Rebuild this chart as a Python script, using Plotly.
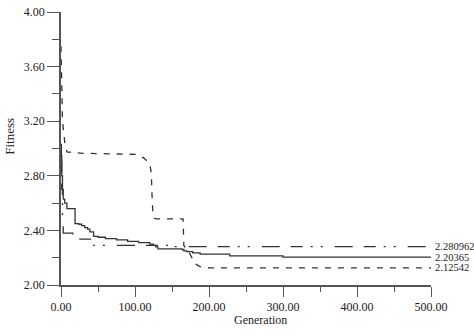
import plotly.graph_objects as go

# Solid series (final 2.20365)
gen_solid = [0, 0.5, 1, 2, 3, 5, 8, 19, 24, 28, 32, 36, 39, 44, 50, 60, 75, 90, 105, 120, 125, 128, 131, 163, 166, 170, 178, 188, 228, 300, 500]
fit_solid = [3.03, 2.90, 2.80, 2.70, 2.63, 2.60, 2.56, 2.45, 2.445, 2.435, 2.42, 2.41, 2.39, 2.357, 2.35, 2.34, 2.33, 2.32, 2.31, 2.30, 2.29, 2.28, 2.264, 2.26, 2.25, 2.245, 2.235, 2.226, 2.214, 2.20365, 2.20365]

# Dash-dot series (final 2.280962)
gen_dashdot = [0, 1, 2, 3, 16, 43, 150, 500]
fit_dashdot = [2.95, 2.70, 2.45, 2.38, 2.336, 2.29, 2.281, 2.280962]

# Dashed series (final 2.12542)
gen_dashed = [0, 1, 2, 4, 5, 8, 30, 103, 112, 120, 122, 123, 124, 126, 128, 165, 166, 174, 181, 186, 190, 200, 500]
fit_dashed = [3.75, 3.45, 3.20, 3.10, 3.05, 2.975, 2.965, 2.957, 2.93, 2.89, 2.82, 2.66, 2.54, 2.49, 2.485, 2.485, 2.29, 2.23, 2.157, 2.14, 2.13, 2.126, 2.12542]

end_labels = ["2.280962", "2.20365", "2.12542"]
end_values = [2.280962, 2.20365, 2.12542]

x_ticks = [0, 100, 200, 300, 400, 500]
y_ticks = [2.0, 2.4, 2.8, 3.2, 3.6, 4.0]

LC = "#333333"
fig = go.Figure()
fig.add_trace(go.Scatter(x=gen_solid, y=fit_solid, mode="lines", line_shape="hv",
                         line=dict(color=LC, width=1.3, dash="solid")))
fig.add_trace(go.Scatter(x=gen_dashdot, y=fit_dashdot, mode="lines", line_shape="hv",
                         line=dict(color=LC, width=1.3, dash="18px,11px,12px,8px,2px,8px,2px,12px")))
fig.add_trace(go.Scatter(x=gen_dashed, y=fit_dashed, mode="lines",
                         line=dict(color=LC, width=1.3, dash="6px,7px")))

font = dict(family="Liberation Serif", size=12, color="#222222")

for t, v in zip(end_labels, end_values):
    fig.add_annotation(x=500, y=v, xref="x", yref="y", text=t, showarrow=False,
                       xanchor="left", yanchor="middle", xshift=2,
                       font=dict(family="Liberation Serif", size=10.5, color="#222222"))

fig.add_annotation(x=0.538, y=0, xref="paper", yref="paper", text="Generation", showarrow=False,
                   xanchor="center", yanchor="middle", yshift=-35, font=dict(family="Liberation Serif", size=12, color="#222222"))
fig.add_annotation(x=0, y=0.543, xref="paper", yref="paper", text="Fitness", showarrow=False,
                   xanchor="center", yanchor="middle", xshift=-51, textangle=-90,
                   font=dict(family="Liberation Serif", size=13, color="#222222"))

fig.update_layout(
    width=474, height=336,
    margin=dict(l=61, r=43, t=5, b=51),
    paper_bgcolor="white", plot_bgcolor="white",
    showlegend=False,
    font=font,
)
fig.update_xaxes(range=[0, 500], tickvals=x_ticks, ticktext=[f"{v:.2f}" for v in x_ticks],
                 showgrid=False, zeroline=False, showline=True, linecolor="#555555", linewidth=1.5,
                 ticks="outside", ticklen=10, tickwidth=1, tickcolor="#555555",
                 minor=dict(dtick=50, tick0=0, ticks="outside", ticklen=5, tickcolor="#555555", showgrid=False),
                 tickfont=font, ticklabeloverflow="allow")
fig.update_yaxes(range=[2, 4.0005], tickvals=y_ticks, ticktext=[f"{v:.2f}" for v in y_ticks],
                 showgrid=False, zeroline=False, showline=True, linecolor="#555555", linewidth=1.5,
                 ticks="outside", ticklen=12, tickwidth=1, tickcolor="#555555",
                 minor=dict(dtick=0.2, tick0=2, ticks="outside", ticklen=7, tickcolor="#555555", showgrid=False),
                 tickfont=font, ticklabeloverflow="allow")

fig.write_html("out.html")
